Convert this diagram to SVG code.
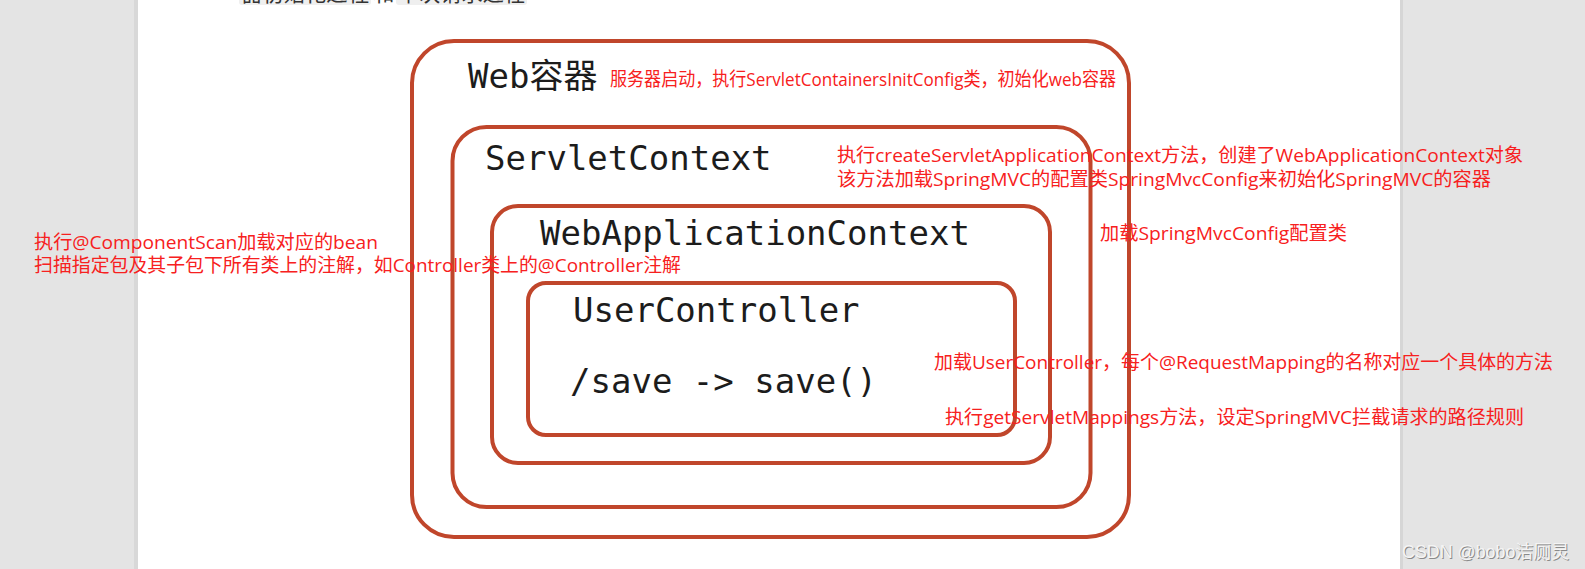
<svg xmlns="http://www.w3.org/2000/svg" width="1585" height="569" viewBox="0 0 1585 569">
<style>
.box{fill:none;stroke:#c0462b;stroke-width:4}
.lbl{font-family:"DejaVu Sans Mono","Noto Sans CJK SC",monospace;font-size:34px;fill:#1c1c1c}
.note{font-family:"Open Sans","Noto Sans CJK SC",sans-serif;font-size:19px;fill:#f72020}
.top{font-family:"Noto Sans CJK SC",sans-serif;font-size:21.5px;fill:#333}
.wm{font-family:"Liberation Sans","Noto Sans CJK SC",sans-serif;font-size:18px}
</style>
<rect x="0" y="0" width="1585" height="569" fill="#ffffff"/>
<rect x="0" y="0" width="138" height="569" fill="#e4e4e4"/>
<rect x="134" y="0" width="4" height="569" fill="#d8d8d8"/>
<rect x="1400" y="0" width="185" height="569" fill="#e4e4e4"/>
<rect x="1400" y="0" width="3" height="569" fill="#d6d6d6"/>

<g id="page-heading">
<rect x="239" y="-20" width="132" height="25" rx="3" fill="#efefef"/>
<rect x="396" y="-20" width="131" height="25" rx="3" fill="#efefef"/>
<text class="top" x="241" y="1" textLength="128" lengthAdjust="spacingAndGlyphs">器初始化过程</text>
<text class="top" x="373" y="1">和</text>
<text class="top" x="398" y="1" textLength="127" lengthAdjust="spacingAndGlyphs">单次请求过程</text>
</g>

<g id="connectors"></g>

<g id="web-container">
<rect class="box" x="412" y="41" width="717" height="496" rx="42" ry="42"/>
<text class="lbl" x="468" y="88">Web容器</text>
</g>
<g id="servlet-context">
<rect class="box" x="452.5" y="127" width="638" height="380" rx="34" ry="34"/>
<text class="lbl" x="485" y="170">ServletContext</text>
</g>
<g id="web-application-context">
<rect class="box" x="492" y="206" width="558" height="257" rx="26" ry="26"/>
<text class="lbl" x="540" y="245">WebApplicationContext</text>
</g>
<g id="user-controller">
<rect class="box" x="528" y="283" width="487" height="152" rx="18" ry="18"/>
<text class="lbl" x="573" y="322">UserController</text>
<text class="lbl" x="570" y="393">/save -&gt; save()</text>
</g>

<g id="notes">
<text class="note" x="610" y="86" font-size="17" textLength="506" lengthAdjust="spacingAndGlyphs">服务器启动，执行ServletContainersInitConfig类，初始化web容器</text>
<text class="note" x="837" y="162" textLength="686" lengthAdjust="spacingAndGlyphs">执行createServletApplicationContext方法，创建了WebApplicationContext对象</text>
<text class="note" x="837" y="186" textLength="654" lengthAdjust="spacingAndGlyphs">该方法加载SpringMVC的配置类SpringMvcConfig来初始化SpringMVC的容器</text>
<text class="note" x="1100" y="240" textLength="247" lengthAdjust="spacingAndGlyphs">加载SpringMvcConfig配置类</text>
<text class="note" x="34" y="249" textLength="344" lengthAdjust="spacingAndGlyphs">执行@ComponentScan加载对应的bean</text>
<text class="note" x="34" y="272" textLength="647" lengthAdjust="spacingAndGlyphs">扫描指定包及其子包下所有类上的注解，如Controller类上的@Controller注解</text>
<text class="note" x="934" y="369" textLength="619" lengthAdjust="spacingAndGlyphs">加载UserController，每个@RequestMapping的名称对应一个具体的方法</text>
<text class="note" x="945" y="424" textLength="579" lengthAdjust="spacingAndGlyphs">执行getServletMappings方法，设定SpringMVC拦截请求的路径规则</text>
</g>

<g id="watermark">
<text class="wm" x="1403" y="559" fill="#8a8a8a" textLength="167" lengthAdjust="spacingAndGlyphs">CSDN @bobo洁厕灵</text>
<text class="wm" x="1402" y="558" fill="#f4f4f4" textLength="167" lengthAdjust="spacingAndGlyphs">CSDN @bobo洁厕灵</text>
</g>
</svg>
